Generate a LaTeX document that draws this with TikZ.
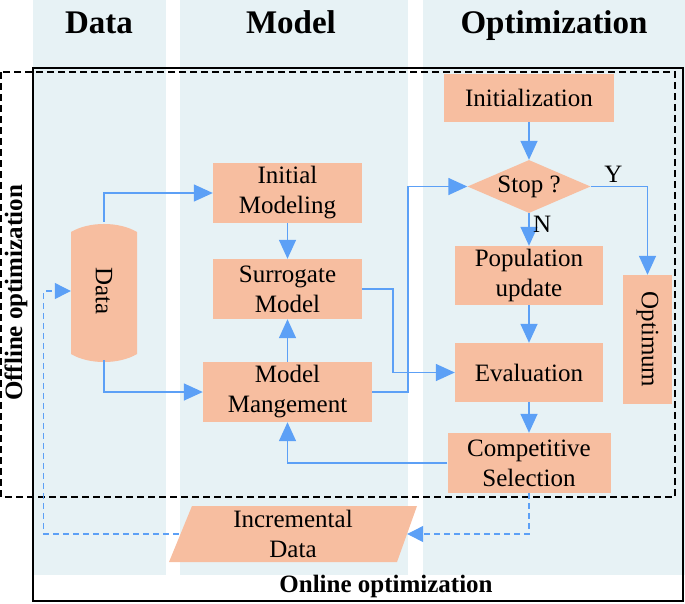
\documentclass[tikz,border=0pt]{standalone}
\usepackage{fontspec}
\setmainfont{Liberation Serif}
\usepackage{graphicx}
\usetikzlibrary{arrows.meta,shapes.geometric}
\definecolor{colbg}{RGB}{231,242,245}
\definecolor{boxfill}{RGB}{247,190,160}
\definecolor{lnblue}{RGB}{92,160,246}

\begin{document}
\begin{tikzpicture}[x=1pt,y=-1pt,font=\fontsize{25}{30}\selectfont,
	blk/.style={fill=boxfill,inner sep=0pt,align=center},
	arr/.style={draw,color=lnblue,line width=1.5pt,-{Triangle[length=19pt,width=17pt]}},
	darr/.style={draw,color=lnblue,line width=1.2pt,dash pattern=on 6pt off 4pt,-{Triangle[length=16pt,width=16pt]}},
	ttl/.style={font=\bfseries\fontsize{33}{36}\selectfont},
	frm/.style={font=\bfseries\fontsize{25}{28}\selectfont}]
	\useasboundingbox (0,0) rectangle (685,603);
	% columns
	\fill[colbg] (33,0) rectangle (166,575);
	\fill[colbg] (180,0) rectangle (408,575);
	\fill[colbg] (423,0) rectangle (685,575);
	\node[ttl,anchor=base] (tdata) at (99,33) {Data};
	\node[ttl,anchor=base] (tmodel) at (291,33) {Model};
	\node[ttl,anchor=base] (topt) at (554,33) {Optimization};
	% online / offline frames
	\draw[line width=1.5pt] (33,68) rectangle (683,601);
	\draw[line width=1.5pt,dash pattern=on 7pt off 4pt] (1,72) rectangle (675,497);
	\node[frm] (online) at (386,586) {Online optimization};
	\node[frm,rotate=90] (offline) at (16,293) {Offline optimization};
	% data shapes
	\fill[boxfill] (71,232) .. controls (89,221.3) and (119,221.3) .. (137,232) -- (137,354)
		.. controls (119,364.7) and (89,364.7) .. (71,354) -- cycle;
	\node[inner sep=0pt,minimum width=66,minimum height=138] (data) at (104,291) {\rotatebox{-90}{Data}};
	\fill[boxfill] (192,506) -- (417,506) -- (397,562) -- (169,562) -- cycle;
	\node[inner sep=0pt,minimum width=228,minimum height=56,align=center] (incr) at (293,534) {Incremental\\Data};
	% model
	\node[blk,minimum width=149,minimum height=60] (initmod) at (287.5,193) {Initial\\Modeling};
	\node[blk,minimum width=149,minimum height=60] (sur) at (287.5,289) {Surrogate\\Model};
	\node[blk,minimum width=169,minimum height=60] (mgmt) at (287.5,392) {Model\\Mangement};
	% optimization
	\node[blk,minimum width=170,minimum height=48] (init) at (529,98) {Initialization};
	\node[blk,diamond,aspect=2.3,minimum width=123,minimum height=53] (stop) at (529,186.5) {Stop ?};
	\node[blk,minimum width=148,minimum height=59] (pop) at (529,275.5) {Population\\update};
	\node[blk,minimum width=148,minimum height=59] (eval) at (529,372.5) {Evaluation};
	\node[blk,minimum width=163,minimum height=60] (comp) at (529,463) {Competitive\\Selection};
	\node[blk,minimum width=49,minimum height=129] (opt) at (647.5,339.5) {\rotatebox{-90}{Optimum}};
	% connectors
	\path[arr]
	(initmod) edge (sur)
	(mgmt) edge (sur)
	(init) edge (stop)
	(stop) edge node [right, pos=0.35, black] {N} (pop)
	(pop) edge (eval)
	(eval) edge (comp);
	\draw[arr] (data.north) |- (initmod.west);
	\draw[arr] (data.south) |- (mgmt.west);
	\draw[arr] (stop.east) -| node [above, pos=0.2, black] {Y} (opt.north);
	\draw[arr] (sur.east) -- ++(31,0) |- (eval.west);
	\draw[arr] (mgmt.east) -- ++(36,0) |- (stop.west);
	\draw[arr] (comp.west) -| (mgmt.south);
	\draw[darr] (comp.south) |- (incr.east);
	\draw[darr] (incr.west) -- ++(-135,0) |- (data.west);
\end{tikzpicture}
\end{document}
